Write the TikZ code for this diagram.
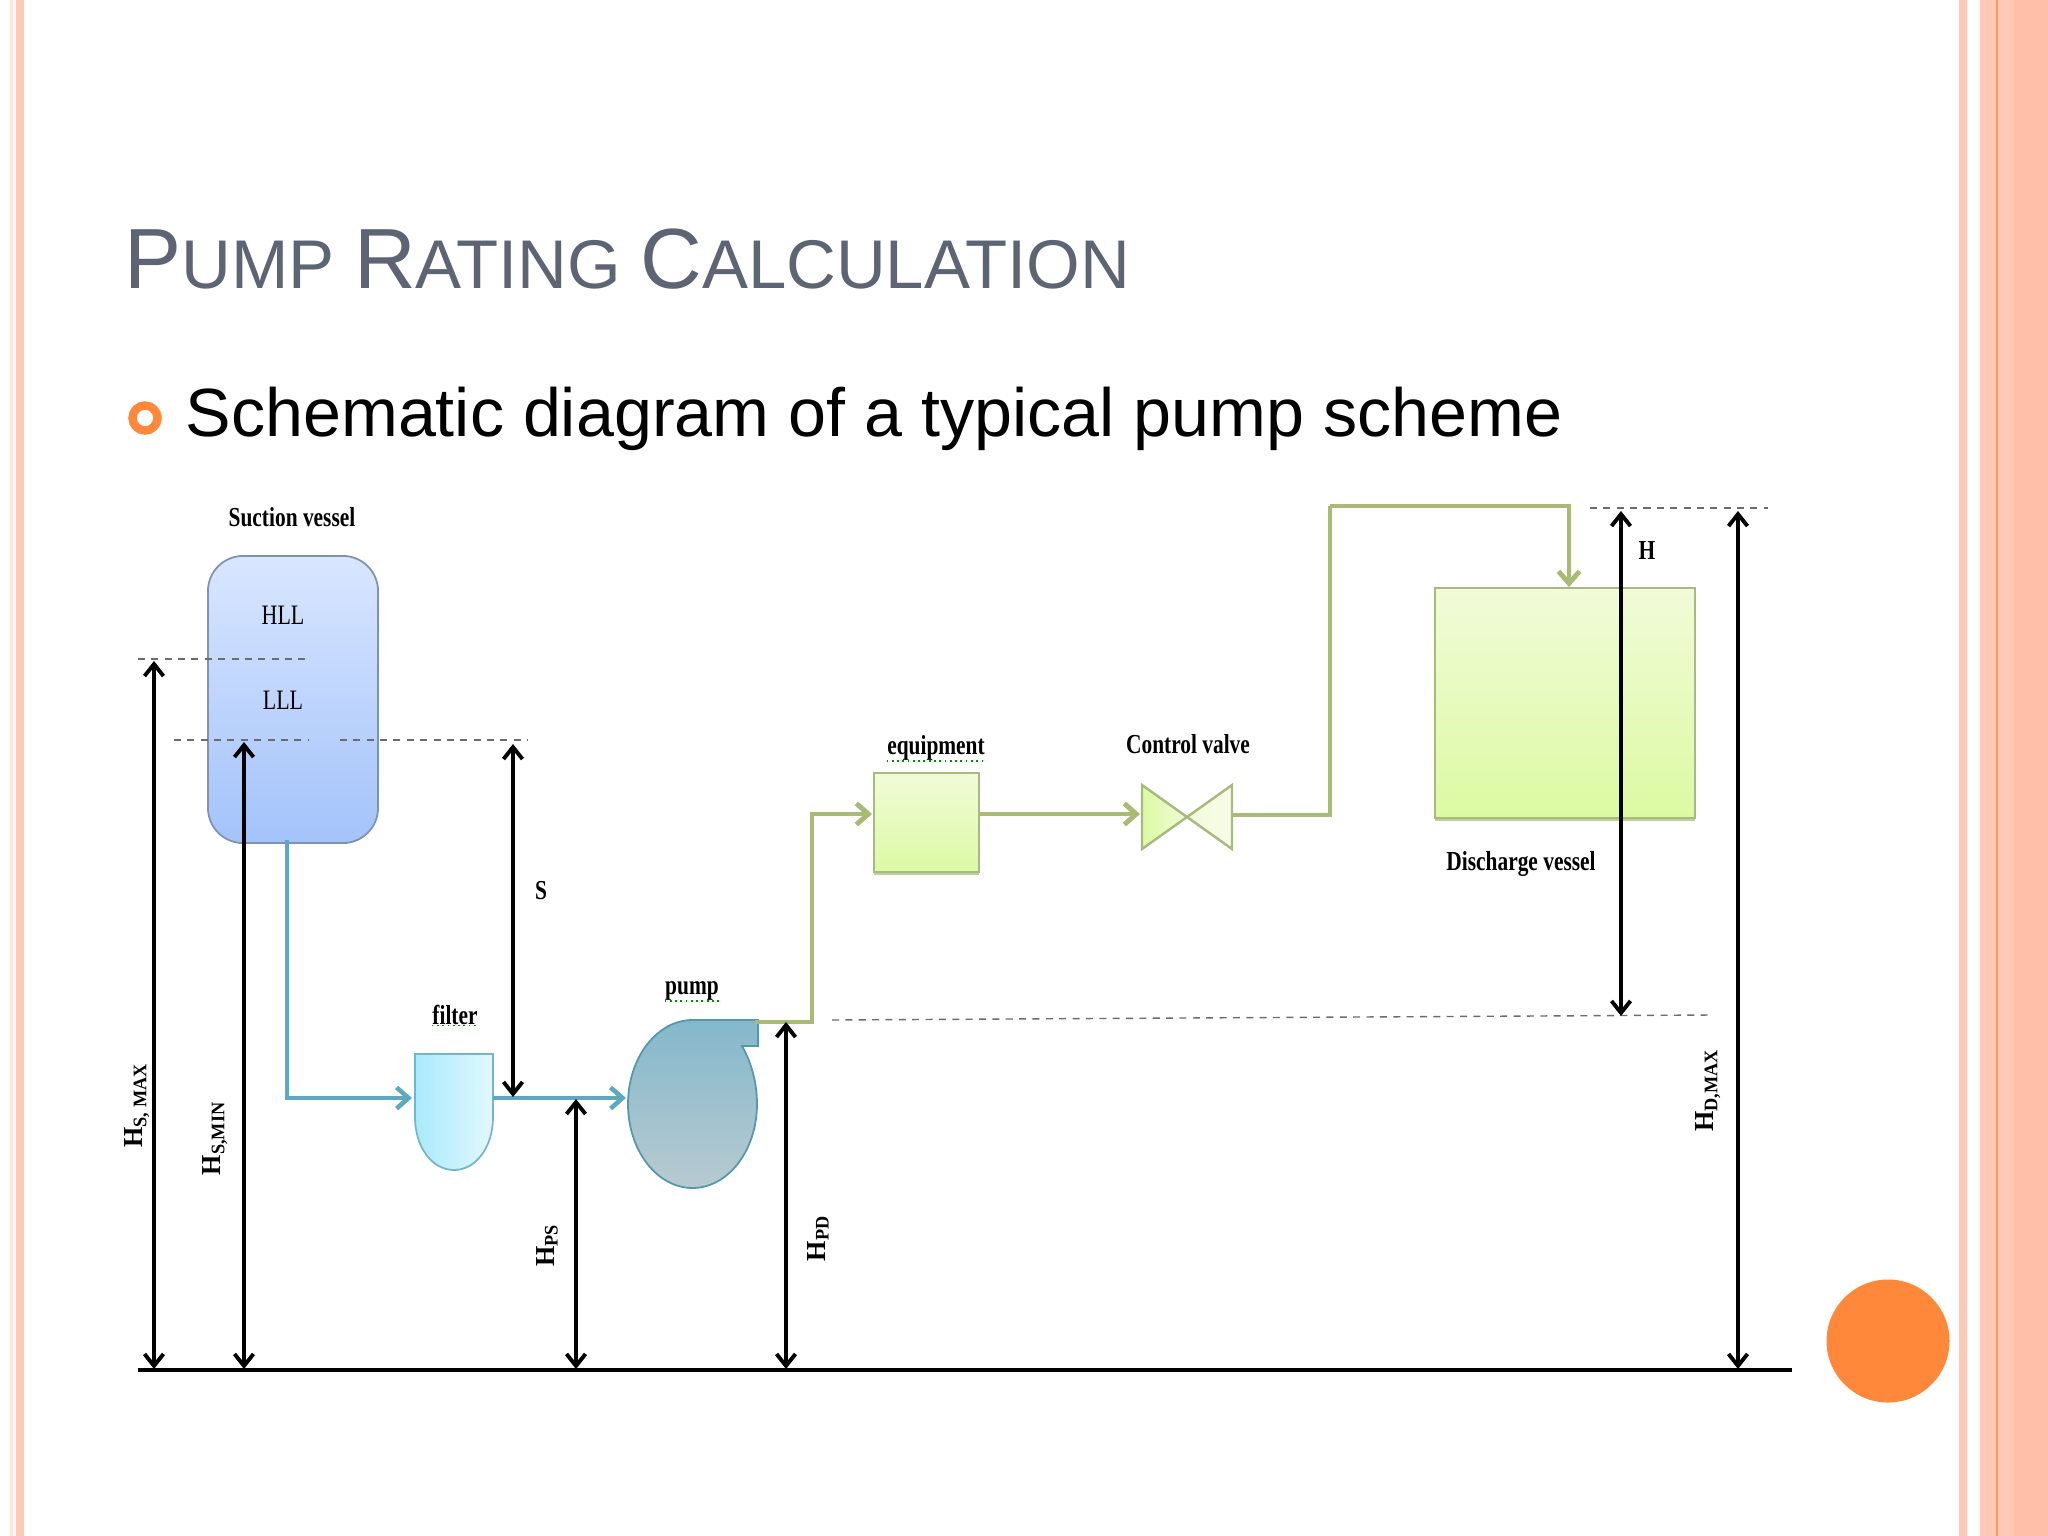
\documentclass[tikz,border=0pt]{standalone}
\usepackage{fontspec}
\setmainfont{Liberation Sans}
\newfontfamily\picfont[FakeStretch=0.78]{Liberation Serif}
\newfontfamily\dimfont[FakeStretch=0.95]{Liberation Serif}
\usetikzlibrary{arrows.meta,shadows}
\definecolor{stripelight}{HTML}{FFC9B6}
\definecolor{stripedeep}{HTML}{FFBFA9}
\definecolor{stripeline}{HTML}{FF9A5C}
\definecolor{headgray}{HTML}{5D6473}
\definecolor{dotorange}{HTML}{FF883A}
\definecolor{pipeblue}{HTML}{5DA9BF}
\definecolor{pipegreen}{HTML}{A8BA74}
\definecolor{boxedge}{HTML}{A7BB80}
\definecolor{vesseledge}{HTML}{7F93B0}
\definecolor{vesseltop}{HTML}{D9E6FF}
\definecolor{vesselend}{HTML}{A3C3FA}
\definecolor{filterdeep}{HTML}{A9EAFB}
\definecolor{filterpale}{HTML}{E3F8FE}
\definecolor{pumptop}{HTML}{84B8CC}
\definecolor{pumpend}{HTML}{B8CAD0}
\definecolor{boxtop}{HTML}{F1FBD8}
\definecolor{boxend}{HTML}{DCFAA2}
\tikzset{
	picnote/.style={font=\picfont\bfseries\fontsize{7.8}{9}\selectfont,inner sep=0pt},
	dimlabel/.style={font=\dimfont\bfseries\fontsize{7.8}{9}\selectfont,inner sep=0pt,rotate=90},
	dimline/.style={black,line width=1.1pt,{Straight Barb[length=3.4pt,width=5.4pt]}-{Straight Barb[length=3.4pt,width=5.4pt]}},
	levelline/.style={gray!85!black,line width=0.4pt,dash pattern=on 2pt off 1.8pt},
	pipeb/.style={pipeblue,line width=1.3pt,-{Straight Barb[length=3.4pt,width=6pt]}},
	pipeg/.style={pipegreen,line width=1.4pt,-{Straight Barb[length=3.4pt,width=6pt]}},
	greenbox/.style={draw=boxedge,line width=0.5pt,top color=boxtop,bottom color=boxend,inner sep=0pt,
		drop shadow={shadow xshift=0pt,shadow yshift=-0.9pt,fill=pipegreen,opacity=0.7}},
	squiggle/.style={green!55!black,line width=0.5pt,densely dotted}
}
\begin{document}
\begin{tikzpicture}[x=0.01cm,y=-0.01cm]
	\useasboundingbox (0,0) rectangle (2048,1536);
	\fill[stripelight!45] (10,0) rectangle (13,1536);
	\fill[stripelight] (16,0) rectangle (24,1536);
	\fill[stripelight] (1959,0) rectangle (1967,1536);
	\fill[stripelight] (1980,0) rectangle (2014,1536);
	\fill[stripedeep] (2014,0) rectangle (2048,1536);
	\fill[stripeline] (1996,0) rectangle (1998,1536);
	\fill[dotorange] (1888,1341) circle (61.5);
	\draw[dotorange,line width=2.4pt] (145,418) circle (12.5);

	\node[anchor=base west,inner sep=0pt,text=headgray] (slidetitle) at (124,288) {\fontsize{24.3}{30}\selectfont P\fontsize{19.6}{30}\selectfont UMP \fontsize{24.3}{30}\selectfont R\fontsize{19.6}{30}\selectfont ATING \fontsize{24.3}{30}\selectfont C\fontsize{19.6}{30}\selectfont ALCULATION};
	\node[anchor=base west,inner sep=0pt] (slidebullet) at (185,436) {\fontsize{19.4}{24}\selectfont Schematic diagram of a typical pump scheme};

	\node[draw=vesseledge,line width=0.5pt,rounded corners=10pt,minimum width=1.7cm,minimum height=2.87cm,inner sep=0pt,top color=vesseltop,bottom color=vesselend] (suction) at (293,699.5) {};
	\filldraw[draw=pipeblue!85,line width=0.5pt,left color=filterdeep,right color=filterpale] (415,1054) -- (493,1054) -- (493,1117) .. controls (493,1147) and (476,1170) .. (454,1170) .. controls (432,1170) and (415,1147) .. (415,1117) -- cycle;
	\filldraw[draw=pipeblue!90!black,line width=0.5pt,top color=pumptop,bottom color=pumpend] (758,1020) -- (758,1046) -- (742,1046) .. controls (750,1060) and (757,1080) .. (757,1104) .. controls (757,1150.4) and (728,1188) .. (692.5,1188) .. controls (657,1188) and (628,1150.4) .. (628,1104) .. controls (628,1057.6) and (657,1020) .. (692.5,1020) -- cycle;
	\node[greenbox,minimum width=1.05cm,minimum height=0.99cm] (equipbox) at (926.5,822.5) {};
	\node[greenbox,minimum width=2.6cm,minimum height=2.3cm] (discharge) at (1565,703) {};
	\filldraw[draw=boxedge,line width=0.7pt,left color=boxend,right color=boxtop] (1142,785) -- (1187,817) -- (1142,849) -- cycle;
	\filldraw[draw=boxedge,line width=0.7pt,left color=boxtop,right color=boxtop!60!white] (1232,785) -- (1187,817) -- (1232,849) -- cycle;

	\coordinate (vesselout) at (287,840);
	\coordinate (filterin) at (412,1098);
	\coordinate (filterout) at (493,1098);
	\coordinate (pumpin) at (626,1098);
	\coordinate (pumpout) at (755,1022);
	\coordinate (riser) at (812,1022);
	\coordinate (equipin) at (872,814);
	\coordinate (equipout) at (979,814);
	\coordinate (valvein) at (1140,814);
	\coordinate (valveout) at (1232,815);
	\coordinate (uptake) at (1330,815);
	\coordinate (overhead) at (1330,506);
	\coordinate (dischargein) at (1569,587);
	\draw[pipeb] (vesselout) |- (filterin);
	\draw[pipeb] (filterout) -- (pumpin);
	\draw[pipeg] (pumpout) -- (riser) |- (equipin);
	\draw[pipeg] (equipout) -- (valvein);
	\draw[pipegreen,line width=1.4pt] (valveout) -- (uptake) -- (overhead);
	\draw[pipeg] (overhead) -| (dischargein);

	\coordinate (hlleft) at (138,659);
	\coordinate (hlright) at (307,659);
	\coordinate (llleft) at (174,740);
	\coordinate (llright) at (308,740);
	\coordinate (slleft) at (340,740);
	\coordinate (slright) at (528,740);
	\coordinate (topleft) at (1590,508);
	\coordinate (topright) at (1768,508);
	\coordinate (pumpleft) at (832,1020);
	\coordinate (pumpright) at (1711,1015);
	\draw[levelline] (hlleft) -- (hlright);
	\draw[levelline] (llleft) -- (llright);
	\draw[levelline] (slleft) -- (slright);
	\draw[levelline] (topleft) -- (topright);
	\draw[levelline] (pumpleft) -- (pumpright);

	\coordinate (groundl) at (138,1370);
	\coordinate (groundr) at (1792,1370);
	\draw[black,line width=1pt] (groundl) -- (groundr);
	\coordinate (hsmaxtop) at (154,661);
	\coordinate (hsmaxend) at (154,1369);
	\coordinate (hsmintop) at (244,742);
	\coordinate (hsminend) at (244,1369);
	\coordinate (stop) at (513,744);
	\coordinate (send) at (513,1097);
	\coordinate (hpstop) at (576,1099);
	\coordinate (hpsend) at (576,1369);
	\coordinate (hpdtop) at (786,1022);
	\coordinate (hpdend) at (786,1369);
	\coordinate (htop) at (1621,511);
	\coordinate (hend) at (1621,1016);
	\coordinate (hdtop) at (1738,511);
	\coordinate (hdend) at (1738,1369);
	\draw[dimline] (hsmaxtop) -- (hsmaxend);
	\draw[dimline] (hsmintop) -- (hsminend);
	\draw[dimline] (stop) -- (send);
	\draw[dimline] (hpstop) -- (hpsend);
	\draw[dimline] (hpdtop) -- (hpdend);
	\draw[dimline] (htop) -- (hend);
	\draw[dimline] (hdtop) -- (hdend);

	\node[picnote] (suctionlabel) at (292,517) {Suction vessel};
	\node[picnote,font=\picfont\fontsize{8}{9}\selectfont] (hll) at (283,615) {HLL};
	\node[picnote,font=\picfont\fontsize{8}{9}\selectfont] (lll) at (283,700) {LLL};
	\node[picnote] (filterlabel) at (455,1015) {filter};
	\node[picnote] (pumplabel) at (692,991) {pump};
	\node[picnote] (equiplabel) at (936,748) {equipment};
	\node[picnote] (valvelabel) at (1188,744) {Control valve};
	\node[picnote] (dischargelabel) at (1521,864) {Discharge vessel};
	\node[picnote] (slabel) at (541,891) {S};
	\node[picnote] (hlabel) at (1647,551) {H};
	\node[dimlabel] (hsmaxlabel) at (137,1105) {H\textsubscript{S, MAX}};
	\node[dimlabel] (hsminlabel) at (215,1138) {H\textsubscript{S,MIN}};
	\node[dimlabel] (hpslabel) at (547,1245) {H\textsubscript{PS}};
	\node[dimlabel] (hpdlabel) at (818,1238) {H\textsubscript{PD}};
	\node[dimlabel] (hdmaxlabel) at (1708,1090) {H\textsubscript{D,MAX}};
	\draw[squiggle] (filterlabel.south west) -- (filterlabel.south east);
	\draw[squiggle] (pumplabel.south west) -- (pumplabel.south east);
	\draw[squiggle] (equiplabel.south west) -- (equiplabel.south east);
\end{tikzpicture}
\end{document}
